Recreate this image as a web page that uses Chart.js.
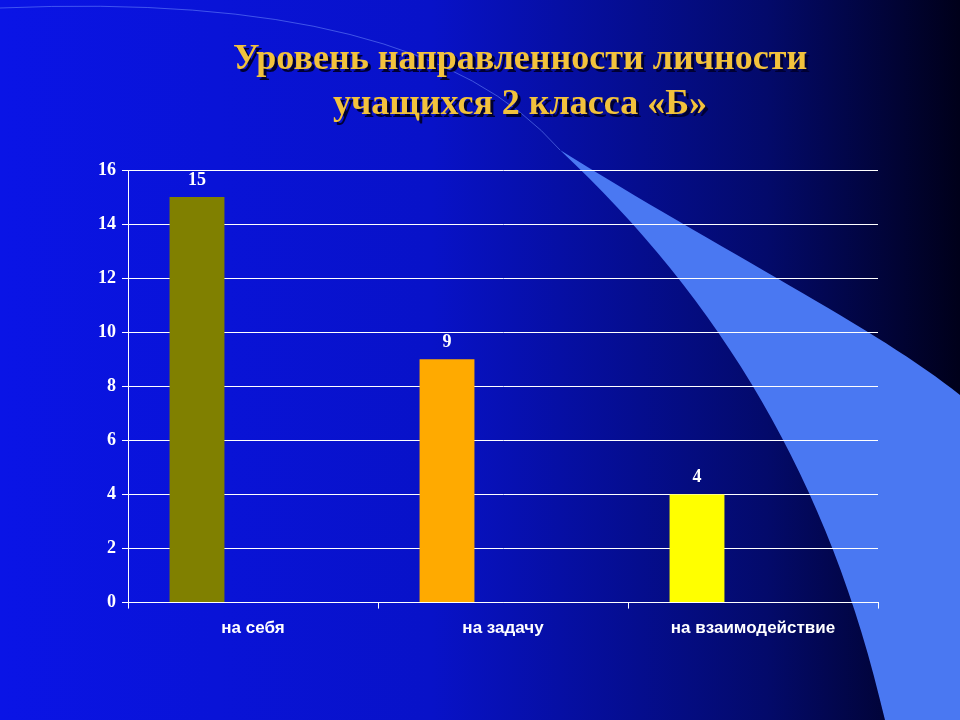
<!DOCTYPE html>
<html><head><meta charset="utf-8">
<script src="https://cdn.jsdelivr.net/npm/chart.js@4"></script>
<style>html,body{margin:0;padding:0;background:#000}canvas{display:block}</style>
</head><body>
<div style="width:960px;height:720px"><canvas id="c"></canvas></div>
<script>
const categories = ["на себя", "на задачу", "на взаимодействие"];
const values = [15, 9, 4];
const barColors = ["#808000", "#FFAA00", "#FFFF00"];
const yTicks = [0, 2, 4, 6, 8, 10, 12, 14, 16];
const titleLines = ["Уровень направленности личности", "учащихся 2 класса «Б»"];

const bg = {
  id: 'bg',
  beforeDraw(chart) {
    const ctx = chart.ctx, w = chart.width, h = chart.height;
    ctx.save();
    const g = ctx.createLinearGradient(0, 0, w, 0);
    g.addColorStop(0, '#0a14e6');
    g.addColorStop(0.45, '#0812c8');
    g.addColorStop(0.8, '#030a6a');
    g.addColorStop(1, '#00001a');
    ctx.fillStyle = g; ctx.fillRect(0, 0, w, h);
    ctx.fillStyle = '#4a78f2';
    ctx.beginPath();
    ctx.moveTo(560, 150);
    ctx.bezierCurveTo(720, 250, 880, 330, 960, 395);
    ctx.lineTo(960, 720);
    ctx.lineTo(885, 720);
    ctx.bezierCurveTo(830, 480, 720, 300, 560, 150);
    ctx.fill();
    ctx.strokeStyle = 'rgba(120,150,255,0.5)'; ctx.lineWidth = 1;
    ctx.beginPath(); ctx.moveTo(0, 8); ctx.quadraticCurveTo(420, -10, 560, 150); ctx.stroke();
    ctx.font = 'bold 36px "Liberation Serif"';
    ctx.textAlign = 'center'; ctx.textBaseline = 'middle';
    titleLines.forEach((t, i) => {
      ctx.fillStyle = '#000033'; ctx.fillText(t, 523, 63 + i * 45);
      ctx.fillStyle = '#F2C23C'; ctx.fillText(t, 520, 60 + i * 45);
    });
    ctx.restore();
  },
  afterDatasetsDraw(chart) {
    const ctx = chart.ctx;
    const meta = chart.getDatasetMeta(0);
    ctx.save();
    ctx.font = 'bold 18px "Liberation Serif"';
    ctx.fillStyle = '#fff'; ctx.textAlign = 'center'; ctx.textBaseline = 'bottom';
    meta.data.forEach((b, i) => ctx.fillText(values[i], b.x, b.y - 8));
    ctx.restore();
  }
};

new Chart(document.getElementById('c'), {
  type: 'bar',
  data: { labels: categories, datasets: [
    { data: values, backgroundColor: barColors, categoryPercentage: 0.896, barPercentage: 0.49 },
    { data: [null, null, null], categoryPercentage: 0.896, barPercentage: 0.49 }
  ]},
  options: {
    responsive: true, maintainAspectRatio: false, animation: false,
    devicePixelRatio: 1,
    layout: { padding: { left: 92, top: 170, right: 82, bottom: 71 } },
    plugins: { legend: { display: false }, tooltip: { enabled: false } },
    scales: {
      x: {
        grid: { display: true, drawOnChartArea: false, color: '#fff', tickLength: 6 },
        border: { color: '#fff' },
        ticks: { color: '#fff', font: { family: 'Liberation Sans', weight: 'bold', size: 17 }, padding: 10 }
      },
      y: {
        min: 0, max: 16,
        afterBuildTicks: a => { a.ticks = yTicks.map(v => ({ value: v })); },
        grid: { color: '#fff', tickLength: 6 },
        border: { color: '#fff' },
        ticks: { color: '#fff', font: { family: 'Liberation Serif', weight: 'bold', size: 18 }, padding: 6 }
      }
    }
  },
  plugins: [bg]
});
</script>
</body></html>
